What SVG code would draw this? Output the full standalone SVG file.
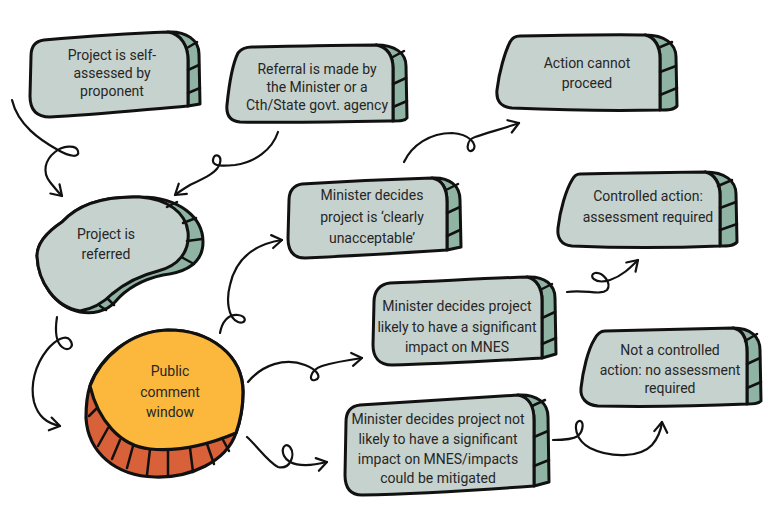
<svg xmlns="http://www.w3.org/2000/svg" width="768" height="511" viewBox="0 0 768 511">
<style>
.body{fill:#c6d2cd;stroke:#111;stroke-width:3;stroke-linejoin:round}
.strip{fill:#8fb4a4;stroke:#111;stroke-width:3;stroke-linejoin:round}
.ln{fill:none;stroke:#111;stroke-width:2.5;stroke-linecap:round}
.yel{fill:#fbb83d;stroke:#111;stroke-width:3.2;stroke-linejoin:round}
.red{fill:#d9613a;stroke:#111;stroke-width:3.2;stroke-linejoin:round}
.t{font-family:Roboto,"Liberation Sans",sans-serif;font-size:14px;fill:#262626;text-anchor:middle}
.c{fill:none;stroke:#111;stroke-width:2.2;stroke-linecap:round;stroke-linejoin:round;marker-end:url(#ah)}
</style>
<defs>
<marker id="ah" markerUnits="userSpaceOnUse" viewBox="-12 -8 14 16" markerWidth="14" markerHeight="16" refX="0" refY="0" orient="auto" overflow="visible">
<path d="M -10,-6.5 L 0,0 L -10,6.5" fill="none" stroke="#111" stroke-width="2.2" stroke-linecap="round" stroke-linejoin="round"/>
</marker>
</defs>

<g id="connectors">
<path class="c" d="M 12,100 C 18,125 40,140 58,150 C 70,157 80,158 78,151 C 76,144 62,146 55,152 C 45,160 42,172 50,182 C 55,188 58,192 62,196"/>
<path class="c" d="M 278,132 C 272,150 255,162 235,165 C 225,166 212,167 213,160 C 214,152 222,155 220,163 C 218,172 205,178 190,185 C 185,188 180,191 175,195"/>
<path class="c" d="M 57,317 C 55,330 56,342 62,347 C 68,352 75,347 70,340 C 66,334 55,340 47,350 C 35,365 30,385 34,402 C 38,416 46,423 60,426"/>
<path class="c" d="M 220,333 C 222,322 228,314 238,315 C 248,316 246,325 238,322 C 228,318 226,300 230,285 C 235,262 250,245 282,240"/>
<path class="c" d="M 248,382 C 262,365 285,357 305,365 C 318,370 322,378 315,380 C 308,382 310,370 322,366 C 335,362 348,360 362,358"/>
<path class="c" d="M 247,437 C 258,447 268,462 278,467 C 290,470 296,455 290,447 C 283,440 278,455 290,462 C 300,467 315,465 327,462"/>
<path class="c" d="M 404,162 C 412,145 430,133 452,133 C 470,134 478,145 473,150 C 466,155 465,140 475,137 C 490,132 505,128 519,123"/>
<path class="c" d="M 567,292 C 585,289 600,296 607,290 C 612,283 603,272 595,273 C 588,275 594,285 610,280 C 622,276 630,268 638,260"/>
<path class="c" d="M 553,440 C 562,440 572,440 578,436 C 584,430 584,420 579,421 C 573,423 575,440 590,448 C 610,458 640,458 652,445 C 658,438 661,430 662,422"/>
</g>

<g id="n1">
<path class="strip" d="M 168,32 C 186,31 199,40 199,54 L 200,104 L 188,106 L 188,60 C 188,46 181,34 168,32 Z"/>
<path class="body" d="M 44,40 C 90,36 140,33 168,32 C 181,34 188,46 188,60 L 188,106 C 140,110 90,115 50,117 C 36,117 30,109 30,96 L 31,56 C 31,46 36,41 44,40 Z"/>
<path class="ln" d="M 187,48 L 197,42 M 188,70 L 199,65 M 188,93 L 200,88"/>
<text class="t" x="112" y="60">Project is self-</text>
<text class="t" x="112" y="78">assessed by</text>
<text class="t" x="112" y="96">proponent</text>
</g>

<g id="n2">
<path class="strip" d="M 376,45 C 395,45 406,53 406,66 L 407,118 C 405,121 400,121 393,121 L 393,68 C 393,57 388,47 376,45 Z"/>
<path class="body" d="M 252,47 C 300,46 350,45 376,45 C 388,47 393,57 393,68 L 393,121 C 340,122 290,123 240,122 C 230,121 226,115 227,105 C 229,85 232,65 238,53 C 241,49 246,47 252,47 Z"/>
<path class="ln" d="M 391,58 L 404,51 M 393,84 L 406,78 M 393,107 L 407,101"/>
<text class="t" x="317" y="74">Referral is made by</text>
<text class="t" x="317" y="92">the Minister or a</text>
<text class="t" x="317" y="110">Cth/State govt. agency</text>
</g>

<g id="n3">
<path class="strip" d="M 62,222 C 80,202 110,196 140,197 C 180,197 203,218 203,242 C 203,262 188,272 163,275 C 140,280 125,290 115,302 C 106,312 92,314 80,312 C 55,307 38,282 37,256 C 37,242 50,230 62,222 Z"/>
<path class="body" d="M 62,222 C 80,202 110,196 140,197 C 168,199 186,213 188,232 C 190,252 178,266 158,271 C 138,276 124,284 112,294 C 102,304 92,309 80,311 C 55,307 38,282 37,256 C 37,242 50,230 62,222 Z"/>
<path class="ln" d="M 167,207 L 177,202 M 183,223 L 196,218 M 187,241 L 202,239 M 183,258 L 194,264 M 100,306 L 106,310 M 108,299 L 114,305"/>
<text class="t" x="106" y="239">Project is</text>
<text class="t" x="106" y="259">referred</text>
</g>

<g id="n4">
<path class="red" d="M 90,386 C 100,358 130,331 168,330 C 210,330 243,355 243,392 C 243,408 240,422 236,433 C 226,462 190,478 155,477 C 115,476 88,452 86,418 C 86,405 87,395 90,386 Z"/>
<path class="yel" d="M 90,386 C 100,358 130,331 168,330 C 210,330 243,355 243,392 C 243,408 240,422 236,433 C 210,444 180,452 150,449 C 120,446 98,420 90,386 Z"/>
<path class="ln" d="M 97,408 L 89,416 M 108,428 L 98,446 M 120,440 L 112,459 M 133,446 L 127,468 M 150,449 L 147,475 M 168,450 L 168,476 M 190,448 L 193,472 M 207,444 L 214,464 M 222,438 L 229,451"/>
<text class="t" x="170" y="376">Public</text>
<text class="t" x="170" y="397">comment</text>
<text class="t" x="170" y="417">window</text>
</g>

<g id="n5">
<path class="strip" d="M 432,178 C 450,177 460,186 460,200 L 461,247 L 447,250 L 447,202 C 447,190 443,180 432,178 Z"/>
<path class="body" d="M 302,184 C 350,181 400,179 432,178 C 443,180 447,190 447,202 L 447,250 C 400,253 350,256 305,258 C 293,258 288,250 288,238 L 289,200 C 289,191 294,185 302,184 Z"/>
<path class="ln" d="M 446,190 L 458,184 M 447,213 L 460,207 M 447,236 L 460,230"/>
<text class="t" x="372" y="200">Minister decides</text>
<text class="t" x="372" y="222">project is ‘clearly</text>
<text class="t" x="372" y="243">unacceptable’</text>
</g>

<g id="n6">
<path class="strip" d="M 645,35 C 665,35 676,44 676,57 L 677,106 C 674,110 668,110 660,110 L 660,58 C 660,47 655,37 645,35 Z"/>
<path class="body" d="M 520,36 C 570,35 620,34 645,35 C 655,37 660,47 660,58 L 660,110 C 610,111 560,110 512,108 C 500,107 496,100 497,90 C 499,72 505,52 510,42 C 512,38 516,36 520,36 Z"/>
<path class="ln" d="M 658,48 L 672,42 M 660,72 L 676,66 M 660,95 L 677,88"/>
<text class="t" x="587" y="68">Action cannot</text>
<text class="t" x="587" y="88">proceed</text>
</g>

<g id="n7">
<path class="strip" d="M 705,172 C 725,172 736,181 736,194 L 737,242 C 734,246 728,246 720,246 L 720,195 C 720,184 715,174 705,172 Z"/>
<path class="body" d="M 580,174 C 630,173 680,172 705,172 C 715,174 720,184 720,195 L 720,246 C 670,248 620,248 572,246 C 561,245 557,238 558,228 C 560,210 566,190 572,180 C 574,176 577,174 580,174 Z"/>
<path class="ln" d="M 718,186 L 732,180 M 720,208 L 736,202 M 720,230 L 737,224"/>
<text class="t" x="648" y="201">Controlled action:</text>
<text class="t" x="648" y="222">assessment required</text>
</g>

<g id="n8">
<path class="strip" d="M 527,277 C 545,276 555,285 555,298 L 556,354 L 542,358 L 542,300 C 542,289 537,279 527,277 Z"/>
<path class="body" d="M 390,283 C 440,281 490,278 527,277 C 537,279 542,289 542,300 L 542,358 C 490,361 440,364 392,365 C 379,365 373,357 373,345 L 374,302 C 374,291 380,284 390,283 Z"/>
<path class="ln" d="M 540,290 L 552,284 M 542,318 L 555,312 M 542,344 L 556,338"/>
<text class="t" x="457" y="311">Minister decides project</text>
<text class="t" x="457" y="332">likely to have a significant</text>
<text class="t" x="457" y="352">impact on MNES</text>
</g>

<g id="n9">
<path class="strip" d="M 518,395 C 537,394 548,403 548,417 L 549,482 L 534,486 L 534,420 C 534,407 529,397 518,395 Z"/>
<path class="body" d="M 360,405 C 420,401 480,397 518,395 C 529,397 534,407 534,420 L 534,486 C 480,490 420,494 362,495 C 350,495 345,487 345,475 L 346,422 C 346,411 351,406 360,405 Z"/>
<path class="ln" d="M 532,406 L 545,400 M 534,437 L 548,431 M 534,466 L 549,460"/>
<text class="t" x="438" y="424">Minister decides project not</text>
<text class="t" x="438" y="444">likely to have a significant</text>
<text class="t" x="438" y="464">impact on MNES/impacts</text>
<text class="t" x="438" y="483">could be mitigated</text>
</g>

<g id="n10">
<path class="strip" d="M 733,328 C 751,328 760,337 760,350 L 761,401 C 758,404 753,404 747,404 L 747,352 C 747,340 743,330 733,328 Z"/>
<path class="body" d="M 605,331 C 650,330 700,329 733,328 C 743,330 747,340 747,352 L 747,404 C 700,406 650,407 598,406 C 586,405 580,398 581,388 C 583,370 588,350 594,340 C 597,334 600,331 605,331 Z"/>
<path class="ln" d="M 745,341 L 757,334 M 747,364 L 760,358 M 747,388 L 761,382"/>
<text class="t" x="670" y="355">Not a controlled</text>
<text class="t" x="670" y="375">action: no assessment</text>
<text class="t" x="670" y="393">required</text>
</g>
</svg>
